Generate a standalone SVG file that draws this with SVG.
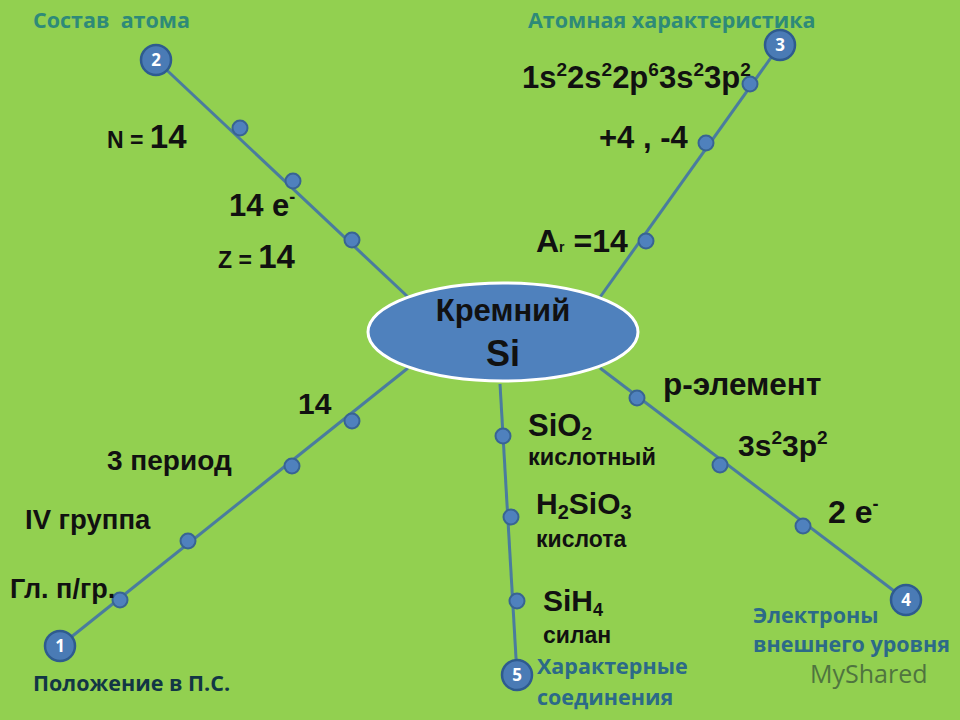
<svg xmlns="http://www.w3.org/2000/svg" width="960" height="720" viewBox="0 0 960 720">
<style>
.ln{stroke:#4A7C9E;stroke-width:3;fill:none}
.dot{fill:#4F81BD;stroke:#386493;stroke-width:2}
.badge{fill:#4A7BB5;stroke:#2E5B8F;stroke-width:2.5}
.bn{font-family:"Open Sans","Liberation Sans",sans-serif;font-weight:bold;font-size:17px;fill:#fff;text-anchor:middle}
.lb{font-family:"Liberation Sans",Arial,sans-serif;font-weight:bold;fill:#111}
.hd{font-family:"Open Sans","Liberation Sans",sans-serif;font-weight:bold;font-size:21.5px}
</style>
<rect width="960" height="720" fill="#92D050"/>
<g id="connectors">
<line class="ln" x1="156" y1="60" x2="408" y2="297"/>
<line class="ln" x1="780" y1="45" x2="598" y2="300"/>
<line class="ln" x1="60" y1="646" x2="408" y2="368"/>
<line class="ln" x1="906" y1="600" x2="600" y2="368"/>
<line class="ln" x1="500" y1="384" x2="517" y2="675"/>
<circle class="dot" cx="240" cy="128" r="7.5"/>
<circle class="dot" cx="293" cy="181" r="7.5"/>
<circle class="dot" cx="352" cy="240" r="7.5"/>
<circle class="dot" cx="750" cy="84" r="7.5"/>
<circle class="dot" cx="706" cy="143" r="7.5"/>
<circle class="dot" cx="646" cy="241" r="7.5"/>
<circle class="dot" cx="120" cy="600" r="7.5"/>
<circle class="dot" cx="188" cy="541" r="7.5"/>
<circle class="dot" cx="292" cy="466" r="7.5"/>
<circle class="dot" cx="352" cy="421" r="7.5"/>
<circle class="dot" cx="637" cy="398" r="7.5"/>
<circle class="dot" cx="720" cy="465" r="7.5"/>
<circle class="dot" cx="803" cy="526" r="7.5"/>
<circle class="dot" cx="503" cy="436" r="7.5"/>
<circle class="dot" cx="511" cy="517" r="7.5"/>
<circle class="dot" cx="517" cy="601" r="7.5"/>
</g>
<g id="center">
<ellipse cx="503" cy="332" rx="135" ry="49" fill="#4F81BD" stroke="#ffffff" stroke-width="3"/>
<text class="lb" x="503" y="321" font-size="31" text-anchor="middle" fill="#0d1b2a" font-family="'Open Sans','Liberation Sans',sans-serif">Кремний</text>
<text class="lb" x="503" y="366" font-size="36" text-anchor="middle" fill="#0d1b2a" font-family="'Open Sans','Liberation Sans',sans-serif">Si</text>
</g>
<g id="branch1">
<circle class="badge" cx="60" cy="646" r="15"/>
<text class="bn" x="60" y="652">1</text>
<text class="hd" x="33" y="691" fill="#123645">Положение в П.С.</text>
<text class="lb" x="298" y="414" font-size="30">14</text>
<text class="lb" x="107" y="470" font-size="28">3 период</text>
<text class="lb" x="25" y="529" font-size="27.5">IV группа</text>
<text class="lb" x="10" y="598" font-size="27" font-family="'Open Sans','Liberation Sans',sans-serif">Гл. п/гр.</text>
</g>
<g id="branch2">
<circle class="badge" cx="156" cy="60" r="15"/>
<text class="bn" x="156" y="66">2</text>
<text class="hd" x="33" y="28" fill="#2E8A78">Состав&#160; атома</text>
<text class="lb" x="107" y="148"><tspan font-size="23">N = </tspan><tspan font-size="33">14</tspan></text>
<text class="lb" x="229" y="216" font-size="31">14 e<tspan font-size="18" dy="-13">-</tspan></text>
<text class="lb" x="218" y="268"><tspan font-size="23">Z = </tspan><tspan font-size="33">14</tspan></text>
</g>
<g id="branch3">
<circle class="badge" cx="780" cy="45" r="15"/>
<text class="bn" x="780" y="51">3</text>
<text class="hd" x="528" y="28" fill="#2E8A78">Атомная характеристика</text>
<text class="lb" x="522" y="88" font-size="31">1s<tspan font-size="19" dy="-12">2</tspan><tspan dy="12">2s</tspan><tspan font-size="19" dy="-12">2</tspan><tspan dy="12">2p</tspan><tspan font-size="19" dy="-12">6</tspan><tspan dy="12">3s</tspan><tspan font-size="19" dy="-12">2</tspan><tspan dy="12">3p</tspan><tspan font-size="19" dy="-12">2</tspan></text>
<text class="lb" x="599" y="148" font-size="31">+4 , -4</text>
<text class="lb" x="536" y="252" font-size="32">A<tspan font-size="14">r</tspan> =14</text>
</g>
<g id="branch4">
<circle class="badge" cx="906" cy="600" r="15"/>
<text class="bn" x="906" y="606">4</text>
<text class="lb" x="663" y="395" font-size="31.5">p-элемент</text>
<text class="lb" x="738" y="456" font-size="30">3s<tspan font-size="19" dy="-12">2</tspan><tspan dy="12">3p</tspan><tspan font-size="19" dy="-12">2</tspan></text>
<text class="lb" x="828" y="523" font-size="32">2 e<tspan font-size="18" dy="-13">-</tspan></text>
<text class="hd" x="753" y="623" fill="#2C6A88">Электроны</text>
<text class="hd" x="753" y="652" fill="#2C6A88">внешнего уровня</text>
</g>
<g id="branch5">
<circle class="badge" cx="517" cy="675" r="15"/>
<text class="bn" x="517" y="681">5</text>
<text class="hd" x="537" y="674" fill="#2C6A88">Характерные</text>
<text class="hd" x="537" y="705" fill="#2C6A88">соединения</text>
<text class="lb" x="528" y="436" font-size="31">SiO<tspan font-size="19" dy="4">2</tspan></text>
<text class="lb" x="528" y="465" font-size="23.5">кислотный</text>
<text class="lb" x="536" y="514" font-size="30">H<tspan font-size="20" dy="5">2</tspan><tspan dy="-5">SiO</tspan><tspan font-size="20" dy="5">3</tspan></text>
<text class="lb" x="536" y="547" font-size="23">кислота</text>
<text class="lb" x="543" y="611" font-size="30">SiH<tspan font-size="18" dy="5">4</tspan></text>
<text class="lb" x="543" y="643" font-size="23">силан</text>
</g>
<text x="810" y="683" font-family="'Open Sans','Liberation Sans',sans-serif" font-size="25" fill="#3f5e3c" opacity="0.8">MyShared</text>
</svg>
